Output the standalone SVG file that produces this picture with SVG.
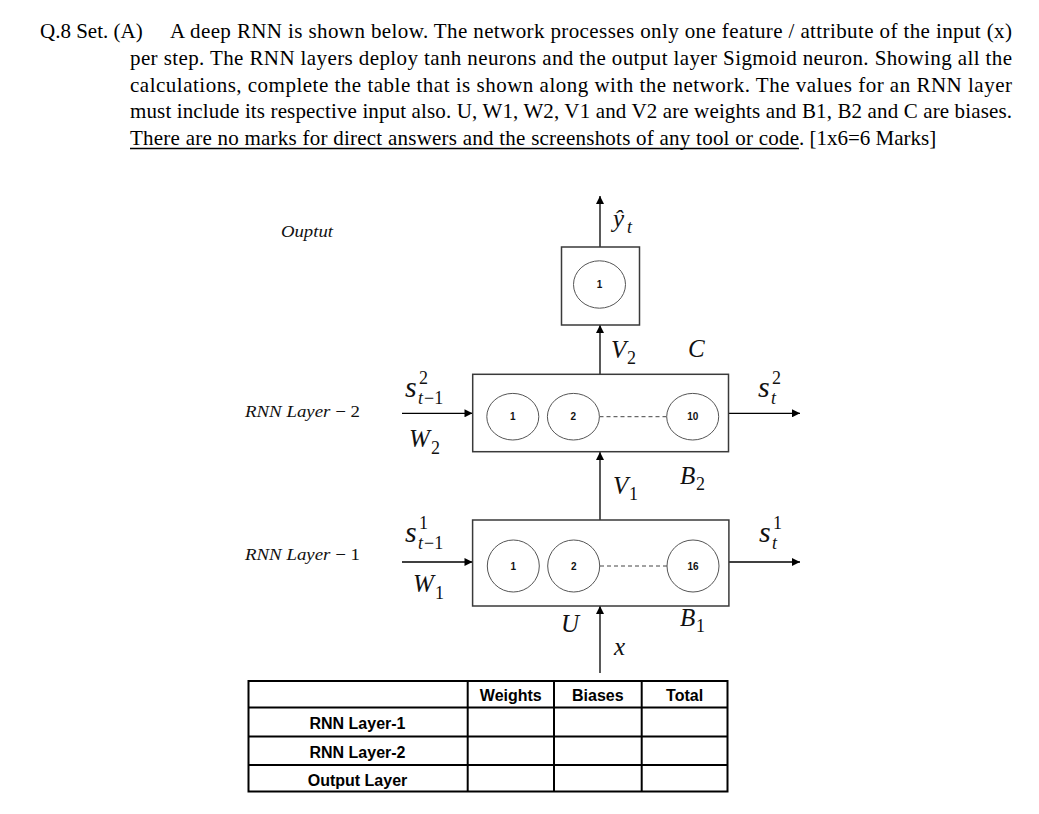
<svg xmlns="http://www.w3.org/2000/svg" width="1039" height="814" viewBox="0 0 1039 814">
<defs>
<marker id="arr" viewBox="0 0 10 10" refX="10" refY="5" markerWidth="9" markerHeight="8" markerUnits="userSpaceOnUse" orient="auto"><path d="M0,0 L10,5 L0,10 z" fill="#000"/></marker>
<style>
.title{font-family:"Liberation Serif","Times New Roman",serif;font-size:21px;fill:#000}
.lbl{font-family:"Liberation Serif","Times New Roman",serif;font-style:italic;font-size:16.5px;fill:#111}
.up{font-style:normal}
.math{font-family:"Liberation Serif","Times New Roman",serif;font-style:italic;font-size:25px;fill:#111}
.ms{font-family:"Liberation Serif","Times New Roman",serif;font-style:italic;font-size:30px;fill:#111}
.sub{font-family:"Liberation Serif","Times New Roman",serif;font-style:normal;font-size:18px;fill:#111}
.subi{font-family:"Liberation Serif","Times New Roman",serif;font-style:italic;font-size:18px;fill:#111}
.box{fill:#fff;stroke:#3a3a3a;stroke-width:1.5}
.neu{fill:#fff;stroke:#555;stroke-width:1}
.num{font-family:"Liberation Sans",Arial,sans-serif;font-weight:bold;font-size:10px;fill:#111;text-anchor:middle}
.conn{stroke:#000;stroke-width:1.3;fill:none}
.dash{stroke:#444;stroke-width:1;stroke-dasharray:4,3}
.tb{stroke:#000;stroke-width:2;fill:none}
.th{font-family:"Liberation Sans",Arial,sans-serif;font-weight:bold;font-size:16px;fill:#000;text-anchor:middle}
</style>
</defs>
<rect width="1039" height="814" fill="#fff"/>

<g id="question">
<text class="title" x="40" y="38">Q.8 Set. (A)</text>
<text class="title" x="170" y="38" textLength="842" lengthAdjust="spacing">A deep RNN is shown below. The network processes only one feature / attribute of the input (x)</text>
<text class="title" x="130" y="65" textLength="882" lengthAdjust="spacing">per step. The RNN layers deploy tanh neurons and the output layer Sigmoid neuron.  Showing all the</text>
<text class="title" x="130" y="91.7" textLength="882" lengthAdjust="spacing">calculations, complete the table that is shown along with the network. The values for an RNN layer</text>
<text class="title" x="130" y="118.3" textLength="882" lengthAdjust="spacing">must include its respective input also. U, W1, W2, V1 and V2 are weights and B1, B2 and C are biases.</text>
<text class="title" x="130" y="145" textLength="669" lengthAdjust="spacing">There are no marks for direct answers and the screenshots of any tool or code</text>
<text class="title" x="799" y="145">. [1x6=6 Marks]</text>
<line x1="130" y1="148.5" x2="799" y2="148.5" stroke="#000" stroke-width="1.5"/>
</g>

<g id="row-labels">
<text class="lbl" x="281" y="237" textLength="52" lengthAdjust="spacingAndGlyphs">Ouptut</text>
<text class="lbl" x="245" y="417" textLength="115" lengthAdjust="spacingAndGlyphs">RNN Layer <tspan class="up">− 2</tspan></text>
<text class="lbl" x="245" y="560" textLength="115" lengthAdjust="spacingAndGlyphs">RNN Layer <tspan class="up">− 1</tspan></text>
</g>

<g id="connectors">
<line class="conn" x1="600" y1="247" x2="600" y2="196" marker-end="url(#arr)"/>
<line class="conn" x1="600" y1="374" x2="600" y2="325" marker-end="url(#arr)"/>
<line class="conn" x1="600" y1="520" x2="600" y2="452" marker-end="url(#arr)"/>
<line class="conn" x1="600" y1="673" x2="600" y2="606" marker-end="url(#arr)"/>
<line class="conn" x1="402" y1="413.3" x2="472.5" y2="413.3" marker-end="url(#arr)"/>
<line class="conn" x1="728.5" y1="413.3" x2="800" y2="413.3" marker-end="url(#arr)"/>
<line class="conn" x1="402" y1="562" x2="472.5" y2="562" marker-end="url(#arr)"/>
<line class="conn" x1="729" y1="562" x2="800" y2="562" marker-end="url(#arr)"/>
</g>

<g id="output-layer">
<rect class="box" x="561.5" y="247" width="78" height="78"/>
<ellipse class="neu" cx="599.5" cy="284.5" rx="26" ry="23.7"/>
<text class="num" x="599.5" y="288">1</text>
</g>

<g id="rnn-layer-2">
<rect class="box" x="472.7" y="374.3" width="255.8" height="77.4"/>
<line class="dash" x1="599.5" y1="416.7" x2="666.5" y2="416.7"/>
<ellipse class="neu" cx="512.8" cy="416.7" rx="26" ry="23.3"/>
<ellipse class="neu" cx="573.4" cy="416.7" rx="26" ry="23.3"/>
<ellipse class="neu" cx="692.7" cy="416.7" rx="26" ry="23.3"/>
<text class="num" x="512.8" y="420.2">1</text>
<text class="num" x="573.4" y="420.2">2</text>
<text class="num" x="692.7" y="420.2">10</text>
</g>

<g id="rnn-layer-1">
<rect class="box" x="472.6" y="520" width="256.3" height="86"/>
<line class="dash" x1="600" y1="566" x2="667" y2="566"/>
<circle class="neu" cx="513.3" cy="566" r="26"/>
<circle class="neu" cx="573.7" cy="566" r="26"/>
<circle class="neu" cx="693" cy="566" r="26"/>
<text class="num" x="513.3" y="569.5">1</text>
<text class="num" x="573.7" y="569.5">2</text>
<text class="num" x="693" y="569.5">16</text>
</g>

<g id="math-labels">
<text class="math" x="613" y="227">ŷ</text><text class="subi" x="627" y="233">t</text>

<text class="math" x="611" y="358">V</text><text class="sub" x="627" y="364">2</text>
<text class="math" x="688" y="357">C</text>

<text class="ms" x="405" y="397">s</text><text class="sub" x="419" y="384">2</text><text class="subi" x="418" y="404">t</text><text class="sub" x="424" y="404">−1</text>
<text class="math" x="409" y="447">W</text><text class="sub" x="431" y="454">2</text>

<text class="ms" x="758" y="397">s</text><text class="sub" x="772" y="384">2</text><text class="subi" x="771" y="404">t</text>

<text class="math" x="613" y="494">V</text><text class="sub" x="629" y="500">1</text>
<text class="math" x="680" y="484">B</text><text class="sub" x="696" y="490">2</text>

<text class="ms" x="405" y="542">s</text><text class="sub" x="419" y="529">1</text><text class="subi" x="418" y="549">t</text><text class="sub" x="424" y="549">−1</text>
<text class="math" x="413" y="592">W</text><text class="sub" x="435" y="599">1</text>

<text class="ms" x="759" y="542">s</text><text class="sub" x="773" y="529">1</text><text class="subi" x="772" y="549">t</text>

<text class="math" x="561" y="632">U</text>
<text class="math" x="680" y="626">B</text><text class="sub" x="696" y="632">1</text>
<text class="math" x="614" y="655">x</text>
</g>

<g id="table">
<rect class="tb" x="248.5" y="681" width="479" height="110.5"/>
<line class="tb" x1="248.5" y1="707.5" x2="727.5" y2="707.5"/>
<line class="tb" x1="248.5" y1="736.5" x2="727.5" y2="736.5"/>
<line class="tb" x1="248.5" y1="765" x2="727.5" y2="765"/>
<line class="tb" x1="467.7" y1="681" x2="467.7" y2="791.5"/>
<line class="tb" x1="554" y1="681" x2="554" y2="791.5"/>
<line class="tb" x1="641.7" y1="681" x2="641.7" y2="791.5"/>
<text class="th" x="510.8" y="700.5">Weights</text>
<text class="th" x="597.8" y="700.5">Biases</text>
<text class="th" x="684.6" y="700.5">Total</text>
<text class="th" x="357.5" y="729">RNN Layer-1</text>
<text class="th" x="357.5" y="757.5">RNN Layer-2</text>
<text class="th" x="357.5" y="785.5">Output Layer</text>
</g>
</svg>
